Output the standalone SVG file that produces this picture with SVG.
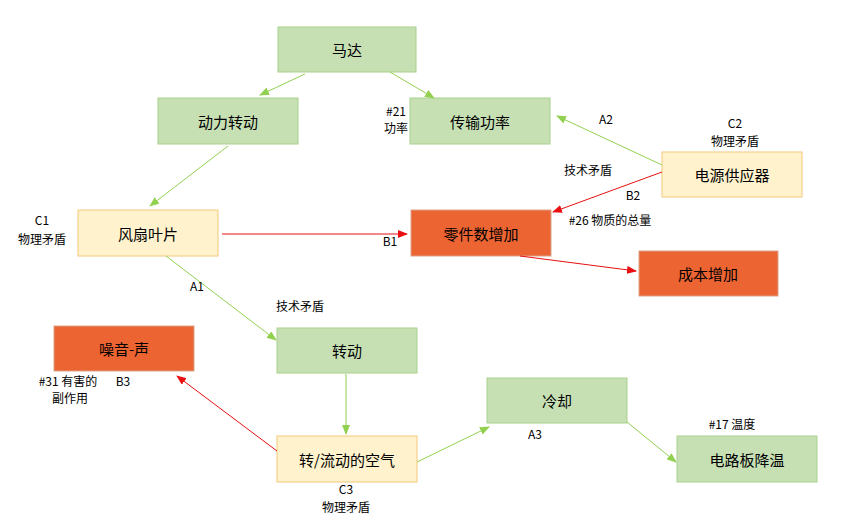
<svg xmlns="http://www.w3.org/2000/svg" width="853" height="532" viewBox="0 0 853 532">
<style>
text{font-family:"Noto Sans CJK SC","Liberation Sans",sans-serif;font-size:12px;fill:#000;text-anchor:middle}
.n text{font-size:15px;dominant-baseline:central}
.g rect{fill:#C6E0B4;stroke:#A9D18E;stroke-width:1}
.y rect{fill:#FFF2CC;stroke:#F4C87A;stroke-width:1}
.o rect{fill:#ED6433;stroke:#D9A38A;stroke-width:1}
.gl{stroke:#92D050;stroke-width:1;fill:none;marker-end:url(#ag)}
.rl{stroke:#E81010;stroke-width:1;fill:none;marker-end:url(#ar)}
</style>
<defs>
<marker id="ag" markerWidth="10" markerHeight="8" refX="9" refY="4" orient="auto" markerUnits="userSpaceOnUse"><path d="M0,0L10,4L0,8z" fill="#92D050"/></marker>
<marker id="ar" markerWidth="10" markerHeight="8" refX="9" refY="4" orient="auto" markerUnits="userSpaceOnUse"><path d="M0,0L10,4L0,8z" fill="#E81010"/></marker>
</defs>
<rect width="853" height="532" fill="#fff"/>
<g id="n1" class="n g"><rect x="278" y="27" width="138" height="45"/><text x="347" y="49.5">马达</text></g>
<g id="n2" class="n g"><rect x="158" y="98" width="140" height="46"/><text x="228" y="121">动力转动</text></g>
<g id="n3" class="n g"><rect x="410" y="98" width="140" height="46"/><text x="480" y="121">传输功率</text></g>
<g id="n4" class="n y"><rect x="662" y="152" width="140" height="45"/><text x="732" y="174.5">电源供应器</text></g>
<g id="n5" class="n y"><rect x="78" y="210" width="140" height="46"/><text x="148" y="233">风扇叶片</text></g>
<g id="n6" class="n o"><rect x="411" y="210" width="140" height="46"/><text x="481" y="233">零件数增加</text></g>
<g id="n7" class="n o"><rect x="639" y="251" width="139" height="45"/><text x="708" y="273.5">成本增加</text></g>
<g id="n8" class="n o"><rect x="54" y="326" width="140" height="45"/><text x="124" y="348.5">噪音-声</text></g>
<g id="n9" class="n g"><rect x="277" y="328" width="140" height="45"/><text x="347" y="350.5">转动</text></g>
<g id="n10" class="n g"><rect x="487" y="378" width="140" height="45"/><text x="557" y="400.5">冷却</text></g>
<g id="n11" class="n y"><rect x="277" y="436" width="140" height="46"/><text x="347" y="459">转/流动的空气</text></g>
<g id="n12" class="n g"><rect x="677" y="436" width="140" height="46"/><text x="747" y="459">电路板降温</text></g>
<g id="edges">
<line class="gl" x1="305" y1="74" x2="260" y2="95"/>
<line class="gl" x1="390" y1="72" x2="434" y2="98"/>
<line class="gl" x1="662" y1="165" x2="557" y2="116"/>
<line class="rl" x1="662" y1="172" x2="553" y2="212"/>
<line class="gl" x1="228" y1="146" x2="150" y2="206"/>
<line class="rl" x1="222" y1="234" x2="407" y2="234"/>
<line class="rl" x1="520" y1="256" x2="636" y2="271"/>
<line class="gl" x1="166" y1="256" x2="276" y2="340"/>
<line class="gl" x1="346" y1="374" x2="346" y2="434"/>
<line class="rl" x1="277" y1="451" x2="177" y2="376"/>
<line class="gl" x1="417" y1="462" x2="489" y2="427"/>
<line class="gl" x1="627" y1="422" x2="676" y2="462"/>
</g>
<g id="labels">
<text x="396" y="116">#21</text><text x="396" y="133">功率</text>
<text x="606" y="124">A2</text>
<text x="735" y="128">C2</text><text x="735" y="146">物理矛盾</text>
<text x="588" y="175">技术矛盾</text>
<text x="633" y="200">B2</text>
<text x="42" y="225">C1</text><text x="42" y="244">物理矛盾</text>
<text x="390" y="246">B1</text>
<text x="610" y="225">#26 物质的总量</text>
<text x="197" y="291">A1</text>
<text x="300" y="311">技术矛盾</text>
<text x="68" y="386">#31 有害的</text><text x="70" y="403">副作用</text>
<text x="123" y="386">B3</text>
<text x="535" y="439">A3</text>
<text x="732" y="429">#17 温度</text>
<text x="346" y="494">C3</text><text x="346" y="512">物理矛盾</text>
</g>
</svg>
